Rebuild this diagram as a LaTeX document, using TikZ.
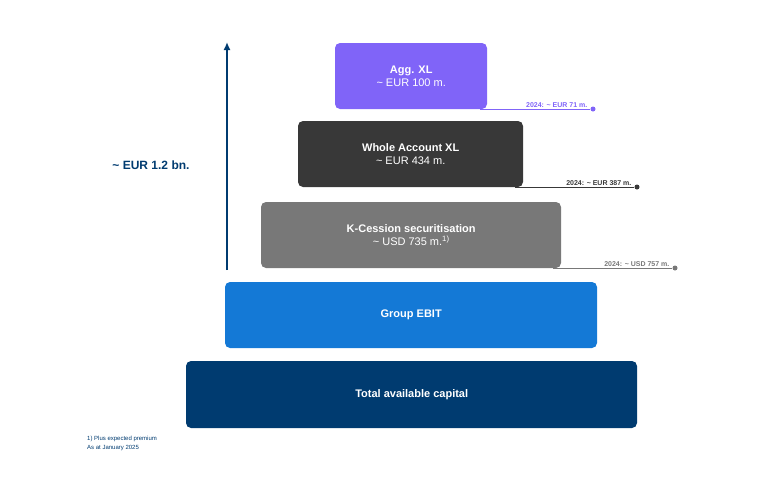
\documentclass[tikz,border=0pt]{standalone}
\usepackage{fontspec}
\setmainfont{Liberation Sans}
\usetikzlibrary{arrows.meta}
\definecolor{cpurple}{HTML}{8064F8}
\definecolor{cdark}{HTML}{383838}
\definecolor{cgray}{HTML}{787878}
\definecolor{cblue}{HTML}{1479D6}
\definecolor{cnavy}{HTML}{003B70}
\begin{document}
\begin{tikzpicture}[x=1pt,y=-1pt,
  tier/.style={rounded corners=5pt,anchor=north west,inner sep=0pt,text=white,align=center,font=\fontsize{11}{13}\selectfont},
  prev/.style={font=\bfseries\fontsize{7}{8}\selectfont,anchor=south east,inner sep=1.5pt},
  dotend/.style={circle,fill,inner sep=0pt,minimum size=5pt}]
\useasboundingbox (0,0) rectangle (768,480);
\fill[cpurple,rounded corners=5pt] (335,43) rectangle (487,109);
\node[tier] (agg) at (335,43) [minimum width=152pt,minimum height=66pt] {\textbf{Agg. XL}\\ \textasciitilde{} EUR 100 m.};
\fill[cdark,rounded corners=5pt] (298,121) rectangle (523,187);
\node[tier] (wa) at (298,121) [minimum width=225pt,minimum height=66pt] {\textbf{Whole Account XL}\\ \textasciitilde{} EUR 434 m.};
\fill[cgray,rounded corners=5pt] (261,202) rectangle (561,268);
\node[tier] (kc) at (261,202) [minimum width=300pt,minimum height=66pt] {\textbf{K-Cession securitisation}\\ \textasciitilde{} USD 735 m.\textsuperscript{1)}};
\fill[cblue,rounded corners=5pt] (225,282) rectangle (597,348);
\node[tier] (eb) at (225,282) [minimum width=372pt,minimum height=66pt] {\textbf{Group EBIT}};
\fill[cnavy,rounded corners=5pt] (186,361) rectangle (637,428);
\node[tier] (tc) at (186,361) [minimum width=451pt,minimum height=67pt] {\textbf{Total available capital}};
\node[dotend,cpurple] (d1) at (593,109) {};
\draw[cpurple,line width=0.8pt] (480,109) -- (d1);
\node[prev,text=cpurple] at (589,109) {2024: \textasciitilde{} EUR 71 m.};
\node[dotend,cdark] (d2) at (637,187) {};
\draw[cdark,line width=0.8pt] (515,187) -- (d2);
\node[prev,text=cdark] at (633,187) {2024: \textasciitilde{} EUR 387 m.};
\node[dotend,cgray] (d3) at (675,268) {};
\draw[cgray,line width=0.8pt] (553,268) -- (d3);
\node[prev,text=cgray] at (671,268) {2024: \textasciitilde{} USD 757 m.};
\coordinate (a0) at (227,270);
\coordinate (a1) at (227,42);
\draw[cnavy,line width=1.6pt,-{Latex[length=8pt,width=7pt]}] (a0) -- (a1);
\node[text=cnavy,font=\bfseries\fontsize{12}{14}\selectfont] (lbl) at (151,165) {\textasciitilde{} EUR 1.2 bn.};
\node[anchor=north west,align=left,inner sep=0pt,font=\fontsize{6}{9}\selectfont,text=cnavy] (fn) at (87,436) {1) Plus expected premium\\As at January 2025};
\end{tikzpicture}
\end{document}
